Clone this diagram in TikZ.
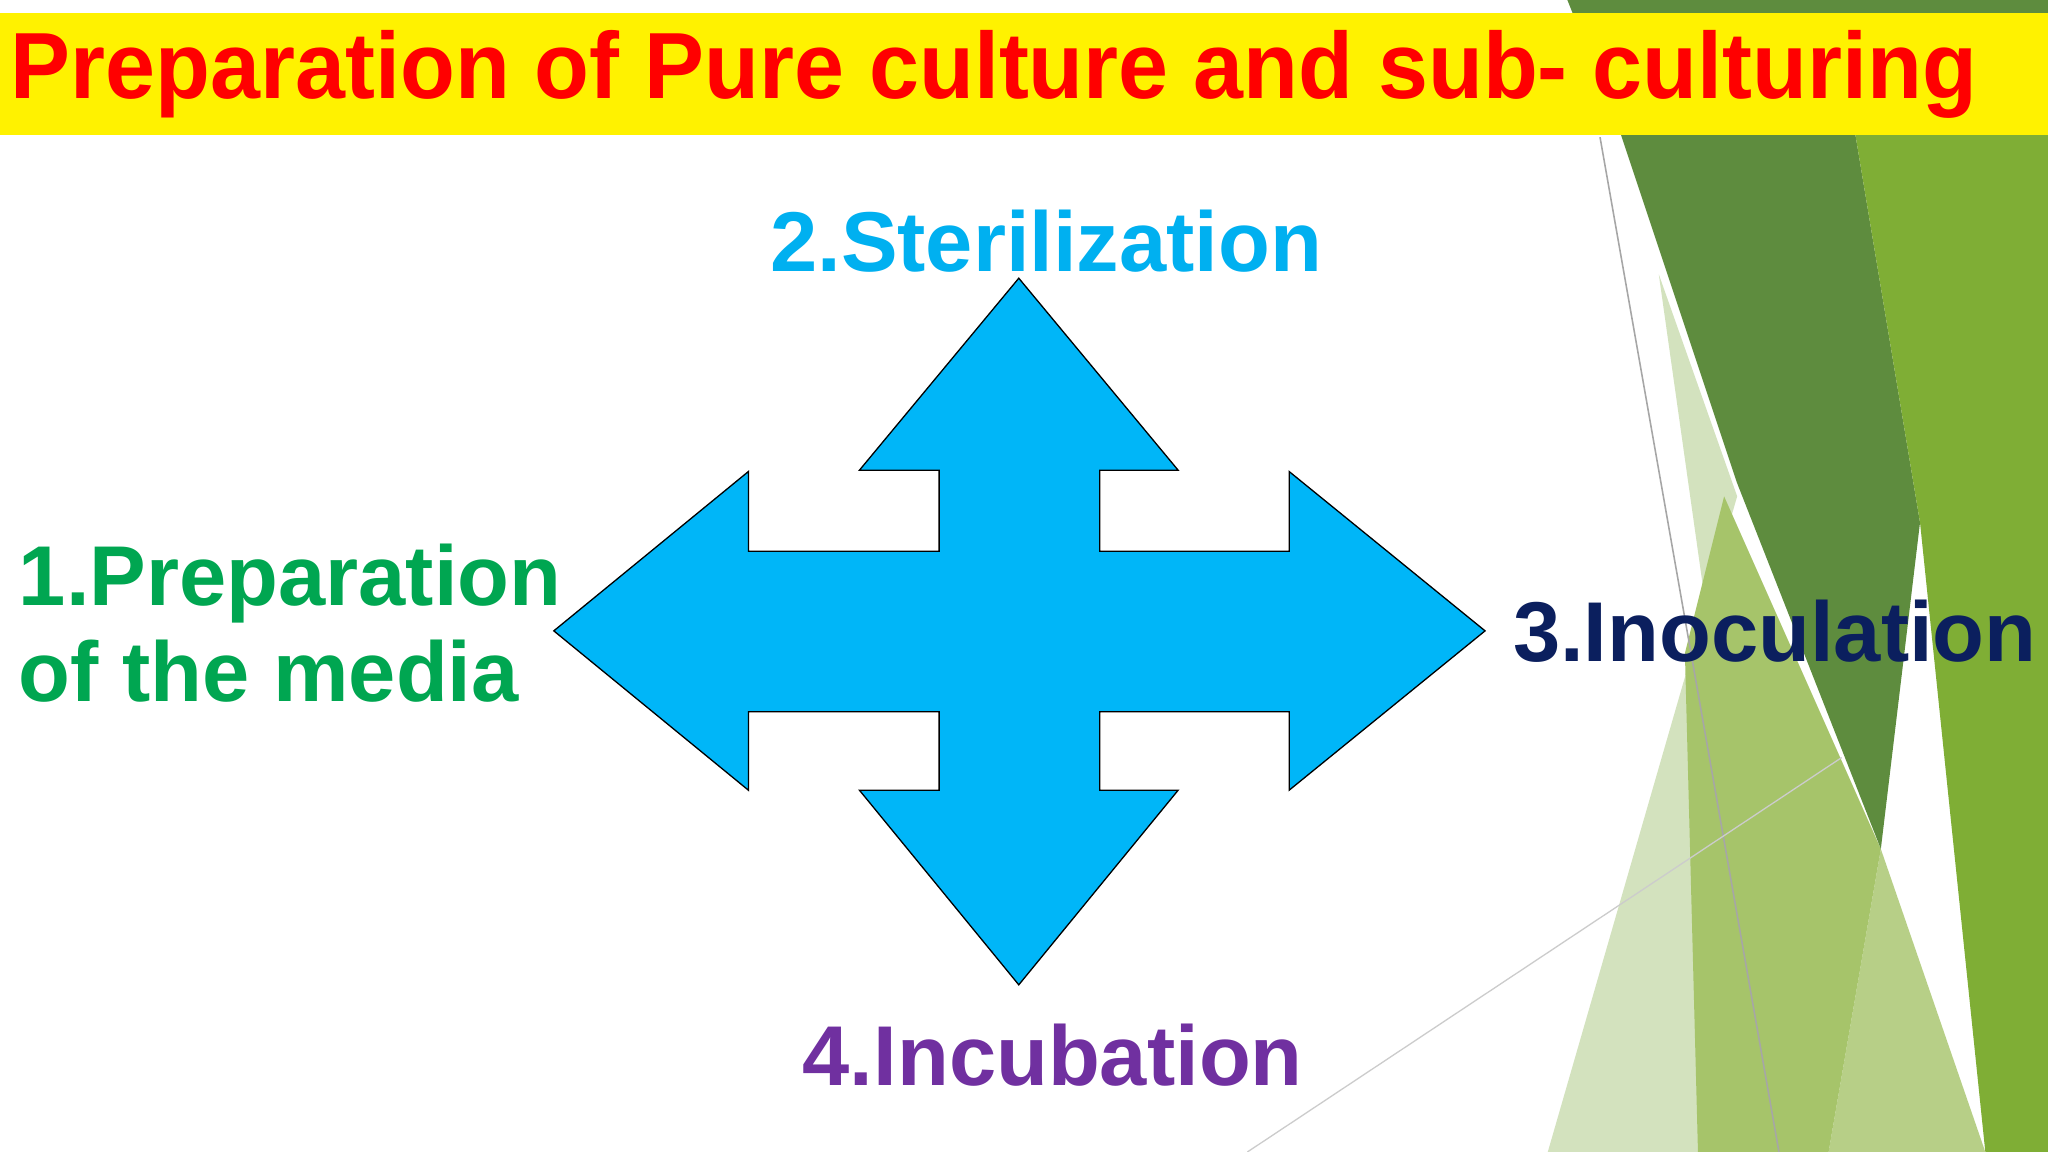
\documentclass[tikz,border=0pt]{standalone}
\usepackage{fontspec}
\setmainfont{Liberation Sans}
\begin{document}
\begin{tikzpicture}[x=0.5pt,y=-0.5pt,
  lbl/.style={font=\fontsize{32.5}{38}\selectfont\bfseries, inner sep=0pt},
  arrowfill/.style={fill=arrowblue, draw=black, line width=0.5pt}]
\definecolor{arrowblue}{HTML}{00B6F8}
\definecolor{tgreen}{HTML}{00A651}
\definecolor{tblue}{HTML}{00B0F0}
\definecolor{tnavy}{HTML}{0B1F5E}
\definecolor{tpurple}{HTML}{7030A0}
\definecolor{g1}{HTML}{5E8C3E}
\definecolor{g2}{HTML}{7FAE35}
\definecolor{g3}{HTML}{A6C46A}
\definecolor{g4}{HTML}{D3E2BE}
\useasboundingbox (0,0) rectangle (1568,882);
\clip (0,0) rectangle (1568,882);
\fill[white] (0,0) rectangle (1568,882);
% green decoration
\fill[g4] (1270,210) -- (1365,882) -- (1185,882) -- (1330,380) -- cycle;
\fill[g3] (1320,380) -- (1440,650) -- (1400,882) -- (1300,882) -- (1290,500) -- cycle;
\fill[g1] (1200,0) -- (1568,0) -- (1568,100) -- (1240,100) -- cycle;
\fill[g1] (1240,100) -- (1420,100) -- (1470,400) -- (1440,650) -- (1330,370) -- cycle;
\fill[g2] (1420,100) -- (1568,100) -- (1568,882) -- (1520,882) -- (1470,400) -- cycle;
\fill[g3, opacity=0.8] (1440,650) -- (1520,882) -- (1400,882) -- cycle;
\draw[gray!70, line width=0.6pt] (1225,105) -- (1362,882);
\draw[gray!40, line width=0.5pt] (955,882) -- (1410,580);
% title bar
\fill[yellow] (0,10) rectangle (1568,103);
\node[anchor=west, inner sep=0pt, text=red, xscale=0.955, font=\fontsize{36}{40}\selectfont\bfseries] (title) at (8,57) {Preparation of Pure culture and sub- culturing};
% arrow
\filldraw[arrowfill] (780,213) -- (902,360) -- (842,360) -- (842,422) -- (987,422) -- (987,361) -- (1137,483) -- (987,605) -- (987,545) -- (842,545) -- (842,605) -- (902,605) -- (780,754) -- (658,605) -- (719,605) -- (719,545) -- (573,545) -- (573,605) -- (424,483) -- (573,361) -- (573,422) -- (719,422) -- (719,360) -- (658,360) -- cycle;
% labels
\node[lbl, text=tblue] (s2) at (801,185) {2.Sterilization};
\node[lbl, text=tgreen, anchor=west, align=left] (s1) at (14,477) {1.Preparation\\[-1pt]of the media};
\node[lbl, text=tnavy, anchor=west] (s3) at (1158,483) {3.Inoculation};
\node[lbl, text=tpurple] (s4) at (806,808) {4.Incubation};
\end{tikzpicture}
\end{document}
